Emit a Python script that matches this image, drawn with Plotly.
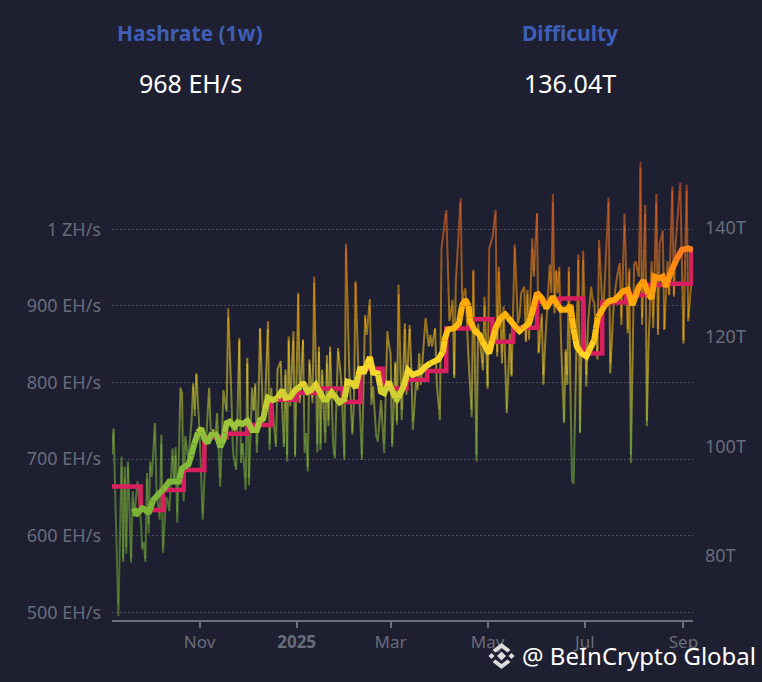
import datetime as dt
import plotly.graph_objects as go

W, H = 762, 682
START = dt.datetime(2024, 9, 7)

# daily hashrate (day since START, EH/s)
hash_sep_oct = [(0,706),(1,740),(4,495),(6,703),(7,566),(8,690),(9,577),(10,697),(12,565),(13,658),(14,625),(16,671),
    (18,625),(19,582),(20,592),(21,566),(22,682),(23,603),(24,697),(25,677),(27,747),(28,656),(30,621),(31,732),
    (32,578),(34,651),(35,645),(36,632),(38,714),(39,669),(40,716),(41,617),(43,793),(44,786),(45,645),(46,730),
    (48,699),(49,725),(50,751),(51,799),(52,756),(53,812),(55,736),(57,621),(59,721),(61,793),(62,740),(65,730),
    (66,760),(68,664)]
hash_nov_dec = [(70,790),(72,762),(73,897),(75,782),(76,708),(78,686),(80,858),(81,695),(82,721),(84,660),(85,832),
    (86,666),(88,793),(89,763),(90,799),(91,708),(92,773),(93,871),(95,747),(96,763),(98,880),(99,712),(100,793),
    (102,738),(103,716),(104,817),(106,828),(107,760),(108,716),(109,817),(110,697),(111,860),(112,769),(114,867),
    (115,703),(117,917),(118,773),(120,856),(121,708),(122,734),(123,684),(124,830),(126,773)]
hash_jan_feb = [(127,938),(129,709),(130,847),(131,712),(132,817),(134,721),(135,836),(136,743),(137,847),(139,716),
    (140,701),(142,845),(144,803),(146,699),(147,981),(149,817),(151,732),(152,773),(153,932),(155,803),(157,699),
    (159,888),(160,862),(162,909),(163,771),(164,795),(166,730),(167,723),(169,777),(171,708),(173,867),(174,847),
    (175,838),(176,716),(178,827),(179,745),(180,928),(182,751),(184,877),(185,784),(187,875),(188,821)]
hash_mar_apr = [(189,738),(191,801),(192,790),(193,838),(194,797),(197,884),(199,847),(200,862),(201,847),(203,871),
    (204,799),(206,751),(207,975),(210,1025),(212,880),(214,908),(215,806),(216,930),(219,1040),(220,908),(222,923),
    (224,830),(226,755),(227,947),(229,697),(230,877),(232,838),(233,816),(234,912),(236,792),(237,975),(239,988),
    (241,1025),(242,834),(243,951),(245,825),(246,899),(248,760),(250,864)]
hash_may_jun = [(251,808),(253,980),(255,877),(256,886),(257,916),(259,925),(260,853),(261,921),(262,856),(264,988),
    (265,938),(267,1021),(268,838),(270,890),(271,797),(272,847),(275,954),(276,917),(277,1046),(278,890),(279,947),
    (280,917),(281,951),(282,860),(284,747),(285,843),(286,797),(287,951),(288,790),(289,672),(290,668),(291,769),
    (293,967),(294,734),(296,972),(298,795),(299,877),(301,925),(302,908),(303,904),(305,830)]
hash_jul_sep = [(306,986),(308,901),(309,906),(312,1041),(313,812),(315,897),(317,936),(319,956),(320,875),(322,1020),
    (324,864),(325,949),(326,695),(328,954),(329,958),(331,938),(332,1088),(333,875),(335,1032),(336,743),(337,845),
    (339,958),(340,871),(342,1046),(343,862),(344,980),(346,998),(347,869),(349,958),(350,914),(352,1056),(353,912),
    (354,980),(357,1061),(359,851),(361,1058),(362,880),(364,932)]

# 1 week average
avg_1w = [(14,636),(15,627),(19,636),(21,634),(23,629),(26,647),(30,656),(33,662),(36,671),(40,672),(42,671),(44,688),
    (48,693),(50,706),(53,730),(55,740),(56,740),(58,727),(60,721),(62,734),(64,736),(66,730),(68,716),(70,725),
    (72,747),(74,749),(77,742),(79,748),(82,746),(85,750),(88,738),(91,738),(93,751),(95,753),(97,773),(98,780),
    (101,777),(104,780),(107,790),(109,780),(112,781),(115,790),(118,793),(120,800),(123,788),(125,790),(128,797),
    (130,790),(133,778),(135,778),(138,787),(140,782),(143,774),(146,778),(148,801),(151,799),(153,793),(156,820),
    (158,812),(162,833),(164,813),(167,812),(169,788),(171,786),(174,801),(177,782),(179,778),(183,793),(186,816),
    (189,810),(192,813),(194,814),(197,821),(200,825),(205,830),(208,841),(209,856),(211,869),(215,871),(218,877),
    (220,901),(222,908),(224,901),(225,880),(228,867),(231,862),(234,847),(237,838),(239,856),(241,871),(244,884),
    (247,889),(250,882),(252,875),(256,867),(259,873),(262,877),(265,899),(267,917),(270,910),(273,897),(277,912),
    (280,901),(282,895),(286,895),(288,901),(290,869),(292,847),(295,838),(298,834),(301,847),(303,856),(305,884),
    (309,899),(312,906),(316,908),(321,919),(324,921),(327,901),(331,925),(334,933),(337,915),(339,910),(341,938),
    (344,936),(346,938),(348,925),(352,949),(355,962),(358,973),(362,975),(365,973)]

# difficulty epochs
diff_days = [0,18,32,45,58,72,85,100,116,129,145,156,170,185,198,210,225,239,252,267,281,296,308,323,335,349,364,365]
diff_vals = [92.67,88.40,92.05,95.67,101.65,102.29,103.92,108.52,109.78,110.57,108.11,114.17,110.57,112.15,113.76,
             121.51,123.23,119.12,121.66,126.41,126.98,116.96,126.27,127.62,129.44,129.70,136.04,136.04]

left_ticks = [500, 600, 700, 800, 900, 1000, 1088]
left_labels = ["500 EH/s", "600 EH/s", "700 EH/s", "800 EH/s", "900 EH/s", "1 ZH/s", ""]
right_ticks = [80, 100, 120, 140]
right_labels = ["80T", "100T", "120T", "140T"]
x_ticks = ["2024-11-01", "2025-01-01", "2025-03-01", "2025-05-01", "2025-07-01", "2025-09-01"]
x_labels = ["Nov", "<b>2025</b>", "Mar", "May", "Jul", "Sep"]

BG = "#1e2031"
FONT = "Noto Sans"
GREY = "#696c7a"
EH_RANGE = [490.2, 1089]

# colours by hashrate level, same ramp as the original gradient
ramp = [(500, (110, 165, 50)), (720, (133, 189, 60)), (790, (214, 210, 50)), (825, (255, 217, 42)),
        (880, (255, 185, 15)), (915, (255, 163, 5)), (945, (255, 143, 18)), (975, (251, 122, 33)), (1090, (235, 85, 30))]


def ramp_color(v, alpha=1.0):
    for (a, ca), (b, cb) in zip(ramp, ramp[1:]):
        if v <= b:
            t = max(0, (v - a) / (b - a))
            c = [round(ca[i] + (cb[i] - ca[i]) * t) for i in range(3)]
            return f"rgba({c[0]},{c[1]},{c[2]},{alpha})"
    return f"rgba(235,85,30,{alpha})"


def day_to_date(d):
    return START + dt.timedelta(days=d)


def band_piece(rows, lo, hi):
    # the part of the line that lies between lo and hi
    xs, ys = [], []
    last = None
    for (d0, v0), (d1, v1) in zip(rows, rows[1:]):
        if max(v0, v1) < lo or min(v0, v1) > hi:
            continue
        if v0 == v1:
            t0, t1 = 0, 1
        else:
            a, b = (lo - v0) / (v1 - v0), (hi - v0) / (v1 - v0)
            t0, t1 = max(0, min(a, b)), min(1, max(a, b))
        p0 = (d0 + (d1 - d0) * t0, v0 + (v1 - v0) * t0)
        p1 = (d0 + (d1 - d0) * t1, v0 + (v1 - v0) * t1)
        if last != p0:
            xs.append(None)
            ys.append(None)
            xs.append(day_to_date(p0[0]))
            ys.append(p0[1])
        xs.append(day_to_date(p1[0]))
        ys.append(p1[1])
        last = p1
    return xs, ys


fig = go.Figure()

hash_daily = hash_sep_oct + hash_nov_dec + hash_jan_feb + hash_mar_apr + hash_may_jun + hash_jul_sep
edges = list(range(480, 1100, 15))
for lo in edges:
    xs, ys = band_piece(hash_daily, lo, lo + 15)
    if xs:
        fig.add_trace(go.Scatter(x=xs, y=ys, mode="lines", connectgaps=False, showlegend=False, hoverinfo="skip",
                                 line=dict(color=ramp_color(lo + 7.5, 0.55), width=2)))

fig.add_trace(go.Scatter(x=[day_to_date(d) for d in diff_days], y=diff_vals, yaxis="y2", mode="lines", name="Difficulty",
                         showlegend=False, line=dict(color="#d81f60", width=4.5, shape="hv")))

# third y axis only so the average is drawn above the difficulty
for lo in edges:
    xs, ys = band_piece(avg_1w, lo, lo + 15)
    if xs:
        fig.add_trace(go.Scatter(x=xs, y=ys, yaxis="y3", mode="lines", connectgaps=False, showlegend=False,
                                 hoverinfo="skip", line=dict(color=ramp_color(lo + 7.5), width=6)))

# plot box in pixels
L, R, T, B = 112, 693, 161, 620


def px(x, y):
    return (x - L) / (R - L), (B - y) / (B - T)


def add_text(x, y, text, size, color, anchor="center"):
    ax, ay = px(x, y)
    fig.add_annotation(x=ax, y=ay, xref="paper", yref="paper", text=text, showarrow=False, xanchor=anchor,
                       yanchor="middle", font=dict(family=FONT, size=size, color=color))


add_text(190, 33, "<b>Hashrate (1w)</b>", 21, "#3f5eb5")
add_text(570, 33, "<b>Difficulty</b>", 21, "#3f5eb5")
add_text(190, 83, "968 EH/s", 25, "#ffffff")
add_text(570, 83, "136.04T", 25, "#ffffff")
add_text(758, 655, "@ BeInCrypto Global", 24, "#ffffff", "right")

# logo of the watermark
logo = [(501.5, 656, 4.5), (491.5, 656, 3), (511.5, 656, 3)]
for cx, cy, r in logo:
    x0, y0 = px(cx - r, cy)
    x1, y1 = px(cx, cy - r)
    x2, y2 = px(cx + r, cy)
    x3, y3 = px(cx, cy + r)
    fig.add_shape(type="path", xref="paper", yref="paper", line_width=0, fillcolor="#dcdcdc",
                  path=f"M{x0},{y0} L{x1},{y1} L{x2},{y2} L{x3},{y3} Z")
for sign in (-1, 1):
    pts = [(492.5, 650 if sign < 0 else 662), (501.5, 643 if sign < 0 else 669), (510.5, 650 if sign < 0 else 662),
           (507.5, 652.5 if sign < 0 else 659.5), (501.5, 648 if sign < 0 else 664), (495.5, 652.5 if sign < 0 else 659.5)]
    coords = [px(*p) for p in pts]
    path = "M" + " L".join(f"{a},{b}" for a, b in coords) + " Z"
    fig.add_shape(type="path", xref="paper", yref="paper", line_width=0, fillcolor="#dcdcdc", path=path)

fig.update_layout(
    width=W, height=H,
    margin=dict(l=L, r=W - R, t=T, b=H - B),
    paper_bgcolor=BG, plot_bgcolor=BG,
    showlegend=False,
    font=dict(family=FONT, size=17, color=GREY),
    xaxis=dict(type="date", range=[day_to_date(0), day_to_date(365)], tickvals=x_ticks, ticktext=x_labels,
               ticks="outside", ticklen=6, tickwidth=2, tickcolor="#6e7079", showline=True, linecolor="#6e7079",
               linewidth=2, showgrid=False, zeroline=False, tickfont=dict(size=17, color=GREY)),
    yaxis=dict(range=EH_RANGE, tickvals=left_ticks, ticktext=left_labels, ticks="", showline=False,
               showgrid=True, gridcolor="#4a4d5a", griddash="2px,2px", gridwidth=1, zeroline=False,
               ticklabelstandoff=10, tickfont=dict(size=18, color=GREY)),
    yaxis2=dict(range=[68.3, 152.1], overlaying="y", side="right", tickvals=right_ticks, ticktext=right_labels,
                ticks="", showline=False, showgrid=False, zeroline=False, ticklabelstandoff=11,
                tickfont=dict(size=18, color=GREY)),
    yaxis3=dict(range=EH_RANGE, overlaying="y", visible=False),
)

fig.write_html("out.html", config=dict(displayModeBar=False),
               post_script=f"document.body.style.margin='0';document.body.style.background='{BG}';")
